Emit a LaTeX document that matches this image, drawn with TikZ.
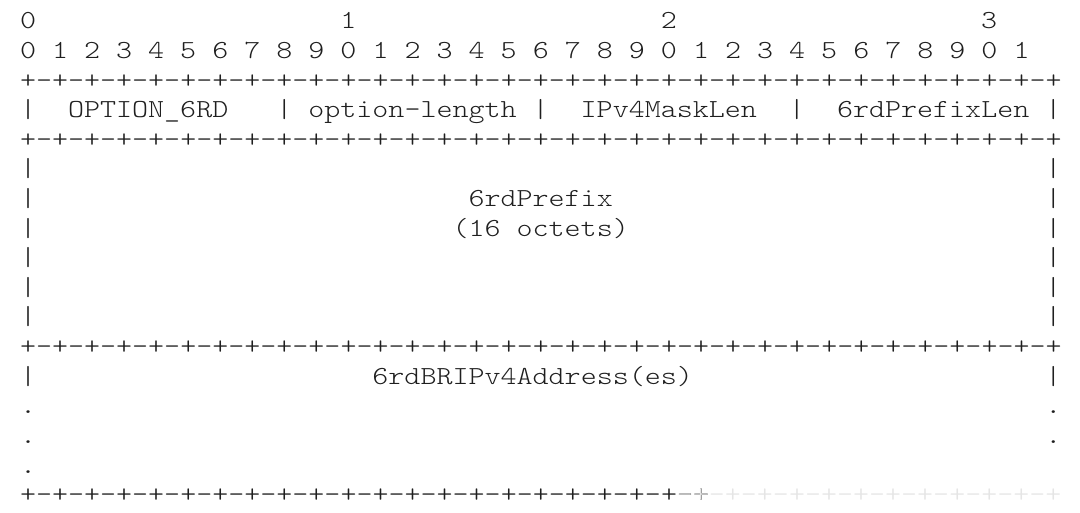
\documentclass[tikz,border=0pt]{standalone}
\usepackage{graphicx}
\tikzset{
  ascii/.style={anchor=base west, inner sep=0pt, outer sep=0pt,
    font=\fontsize{26}{26}\fontseries{l}\ttfamily, text=black!88},
  faint/.style={ascii, text=black!10},
}
\newcommand\sx[1]{\scalebox{1.174}[1]{#1}}
\newcommand\colx[1]{20+#1*16.02}
\newcommand\rowy[1]{29+#1*29.6}
\newcommand\putat[5][ascii]{\node[#1] (#2) at ({\colx{#3}},{\rowy{#4}}) {\sx{#5}};}
\begin{document}
\begin{tikzpicture}[x=1pt,y=-1pt]
\useasboundingbox (0,0) rectangle (1080,513);
% bit numbering
\putat{t0}{0}{0}{0}
\putat{t1}{20}{0}{1}
\putat{t2}{40}{0}{2}
\putat{t3}{60}{0}{3}
\putat{bits}{0}{1}{0 1 2 3 4 5 6 7 8 9 0 1 2 3 4 5 6 7 8 9 0 1 2 3 4 5 6 7 8 9 0 1}
% rules
\putat{r1}{0}{2}{+-+-+-+-+-+-+-+-+-+-+-+-+-+-+-+-+-+-+-+-+-+-+-+-+-+-+-+-+-+-+-+-+}
\putat{r2}{0}{4}{+-+-+-+-+-+-+-+-+-+-+-+-+-+-+-+-+-+-+-+-+-+-+-+-+-+-+-+-+-+-+-+-+}
\putat{r3}{0}{11}{+-+-+-+-+-+-+-+-+-+-+-+-+-+-+-+-+-+-+-+-+-+-+-+-+-+-+-+-+-+-+-+-+}
\putat{r4}{0}{16}{+-+-+-+-+-+-+-+-+-+-+-+-+-+-+-+-+-+-+-+-+-+}
\putat[faint]{r4f}{41}{16}{-+-+-+-+-+-+-+-+-+-+-+-+}
% first word
\putat{b0}{0}{3}{|}
\putat{f1}{3}{3}{OPTION\_6RD}
\putat{b1}{16}{3}{|}
\putat{f2}{18}{3}{option-length}
\putat{b2}{32}{3}{|}
\putat{f3}{35}{3}{IPv4MaskLen}
\putat{b3}{48}{3}{|}
\putat{f4}{51}{3}{6rdPrefixLen}
\putat{b4}{64}{3}{|}
% 6rdPrefix block
\foreach \k in {5,...,10}{
  \putat{pl\k}{0}{\k}{|}
  \putat{pr\k}{64}{\k}{|}
}
\putat{pfx}{28}{6}{6rdPrefix}
\putat{pfxn}{27}{7}{(16 octets)}
% BR addresses
\putat{al}{0}{12}{|}
\putat{addr}{22}{12}{6rdBRIPv4Address(es)}
\putat{ar}{64}{12}{|}
\putat{d1l}{0}{13}{.}
\putat{d1r}{64}{13}{.}
\putat{d2l}{0}{14}{.}
\putat{d2r}{64}{14}{.}
\putat{d3l}{0}{15}{.}
\end{tikzpicture}
\end{document}
